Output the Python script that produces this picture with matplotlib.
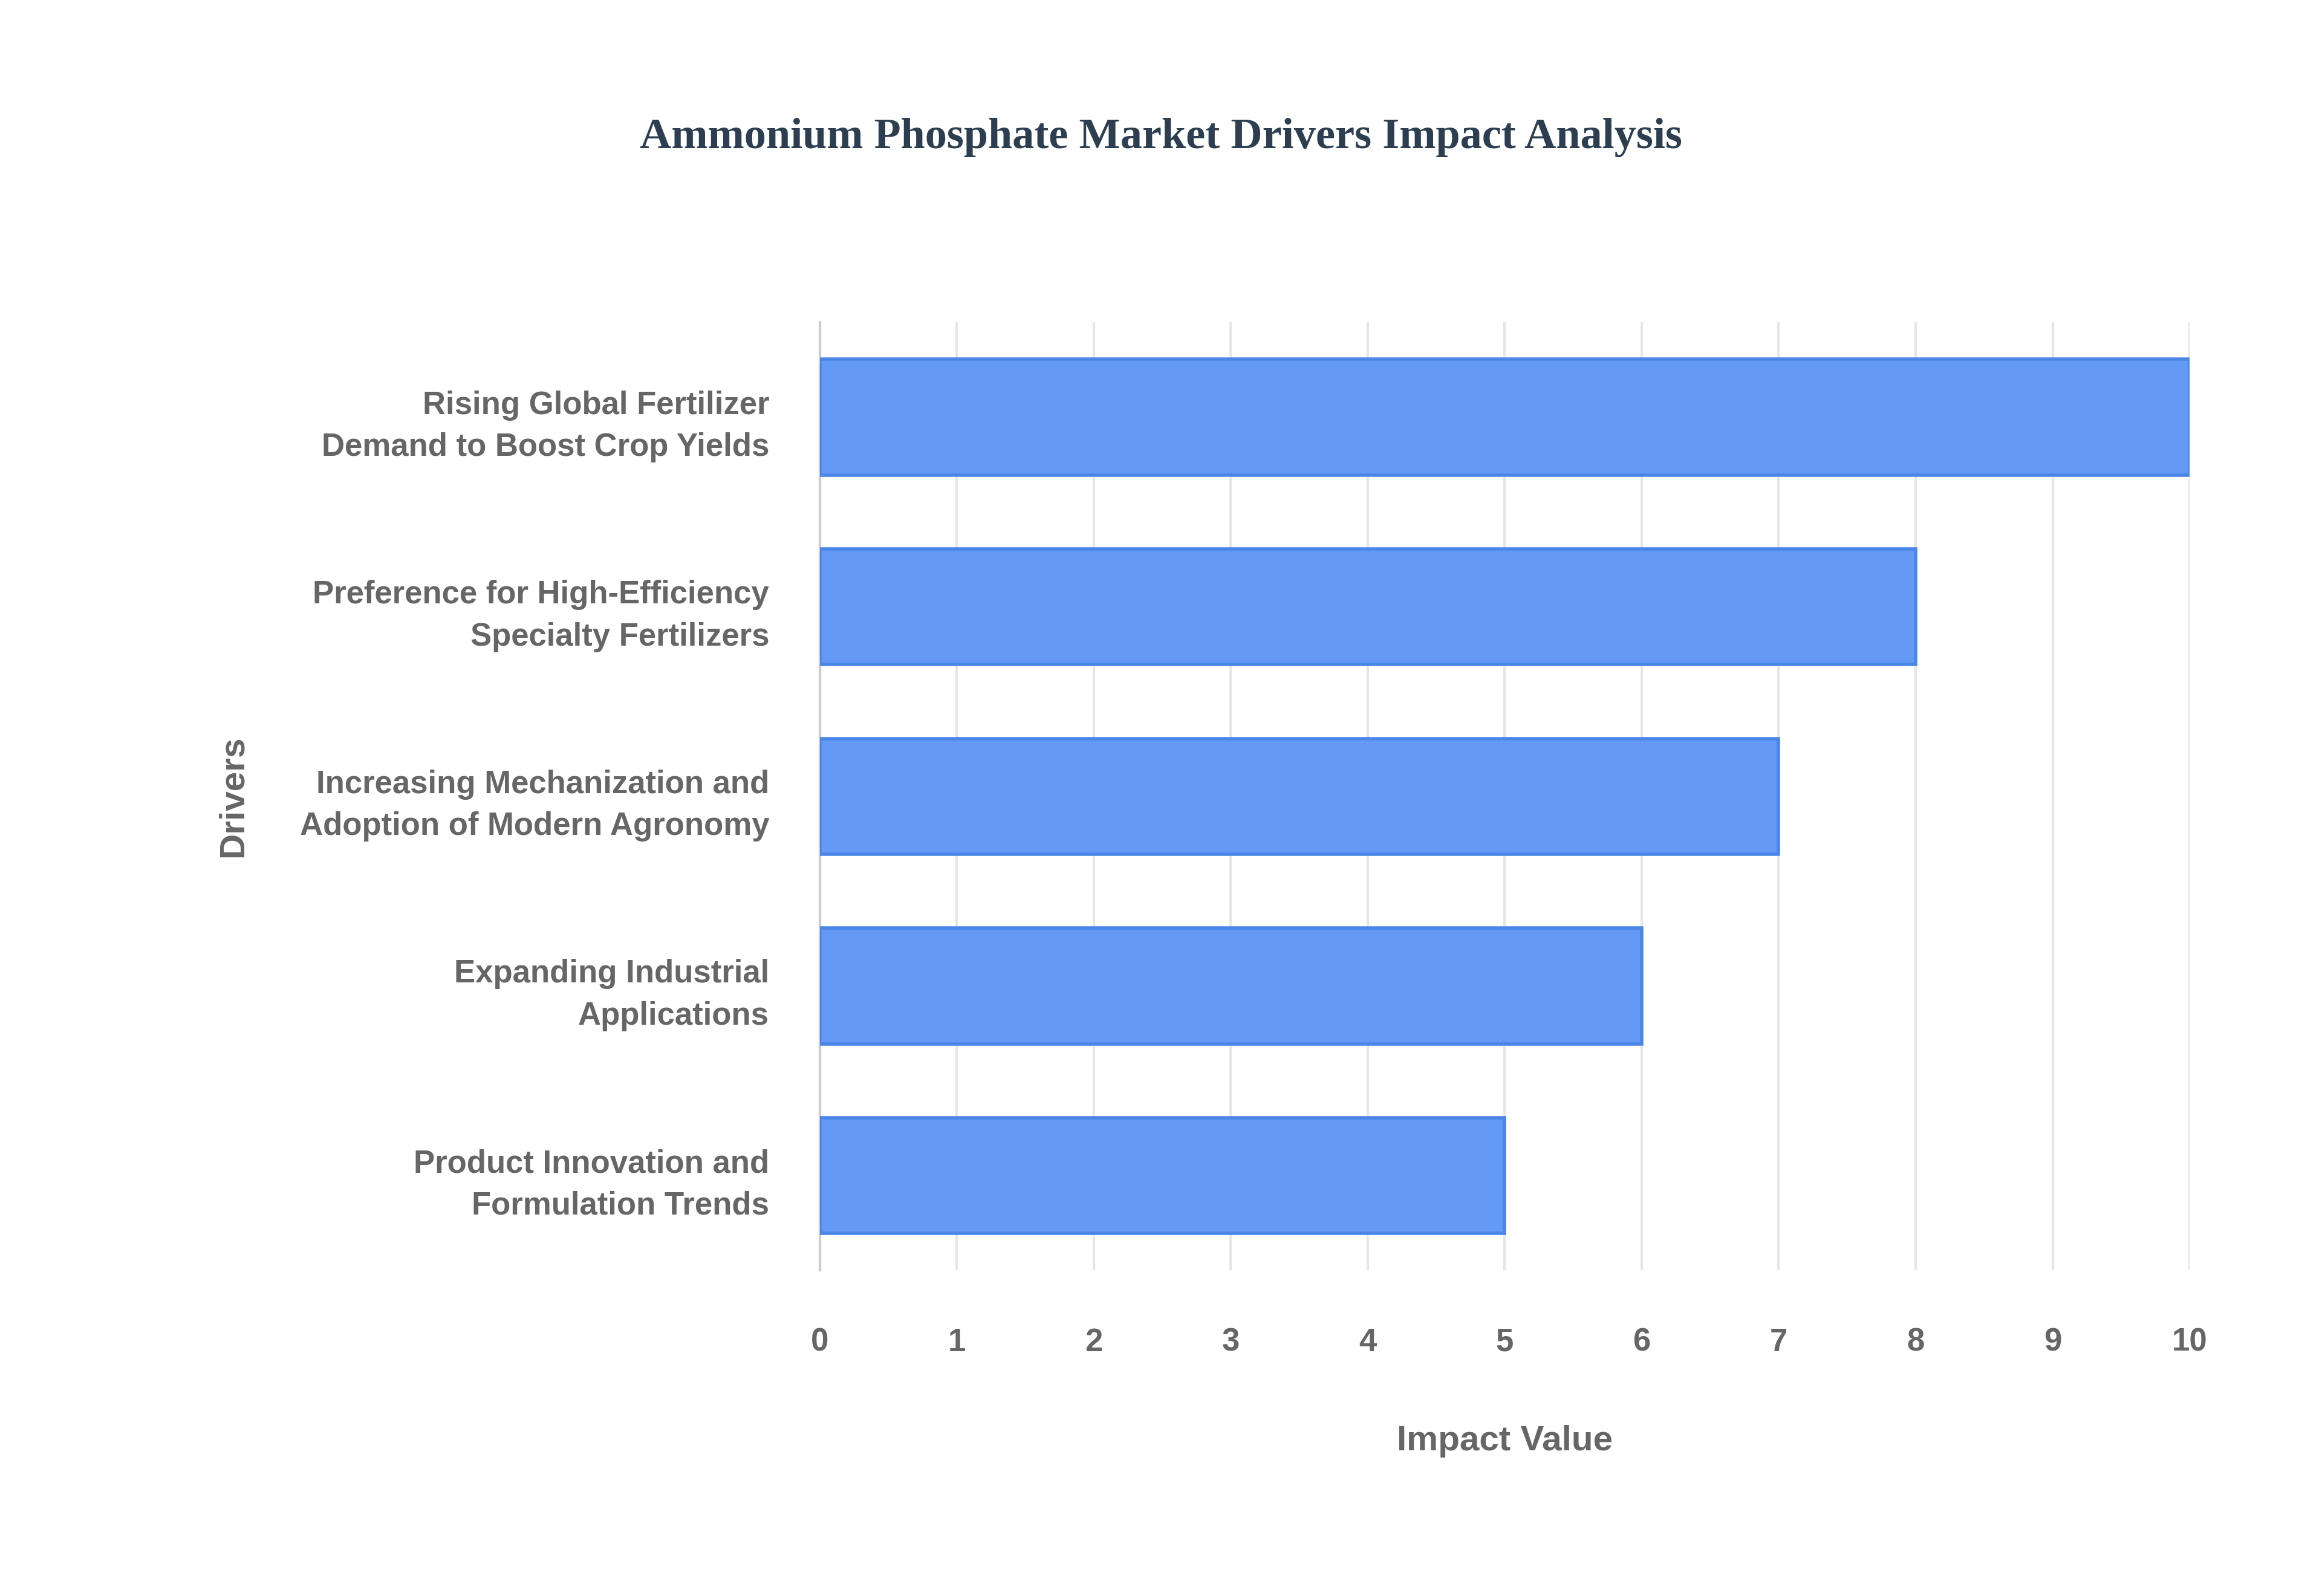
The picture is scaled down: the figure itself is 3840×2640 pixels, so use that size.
import matplotlib.pyplot as plt

drivers = [
    "Rising Global Fertilizer\nDemand to Boost Crop Yields",
    "Preference for High-Efficiency\nSpecialty Fertilizers",
    "Increasing Mechanization and\nAdoption of Modern Agronomy",
    "Expanding Industrial\nApplications",
    "Product Innovation and\nFormulation Trends",
]
impact = [10, 8, 7, 6, 5]

fig = plt.figure(figsize=(19.2, 13.2), dpi=200, facecolor='white')
ax = fig.add_axes([0.353, 0.204, 0.590, 0.594])

pos = list(range(len(drivers)))
ax.barh(pos, impact, height=0.61, color='#6499F5', edgecolor='#4A86E8',
        linewidth=2, zorder=3)
ax.set_ylim(len(drivers) - 0.5, -0.5)
ax.set_xlim(0, 10)
ax.set_xticks(range(0, 11))
ax.set_yticks(pos)
ax.set_yticklabels(drivers, ha='right', linespacing=1.5)

for lbl in ax.get_yticklabels() + ax.get_xticklabels():
    lbl.set_family('Liberation Sans')
    lbl.set_fontweight('bold')
    lbl.set_color('#666666')
    lbl.set_fontsize(19)

ax.tick_params(axis='y', length=0, pad=30)
ax.tick_params(axis='x', length=0, pad=34)
ax.grid(axis='x', color='#e6e6e6', linewidth=1.5, zorder=0)
for s in ['top', 'right', 'bottom']:
    ax.spines[s].set_visible(False)
ax.spines['left'].set_color('#cccccc')
ax.spines['left'].set_linewidth(1.5)

ax.set_xlabel('Impact Value', fontsize=21, fontweight='bold', color='#666666',
              family='Liberation Sans', labelpad=40)
ax.set_ylabel('Drivers', fontsize=21, fontweight='bold', color='#666666',
              family='Liberation Sans', labelpad=30)

fig.text(0.5, 0.914, 'Ammonium Phosphate Market Drivers Impact Analysis',
         ha='center', va='center', fontsize=26, fontweight='bold',
         color='#2c3e50', family='Liberation Serif')

fig.savefig('out.png', dpi=200, facecolor='white')
